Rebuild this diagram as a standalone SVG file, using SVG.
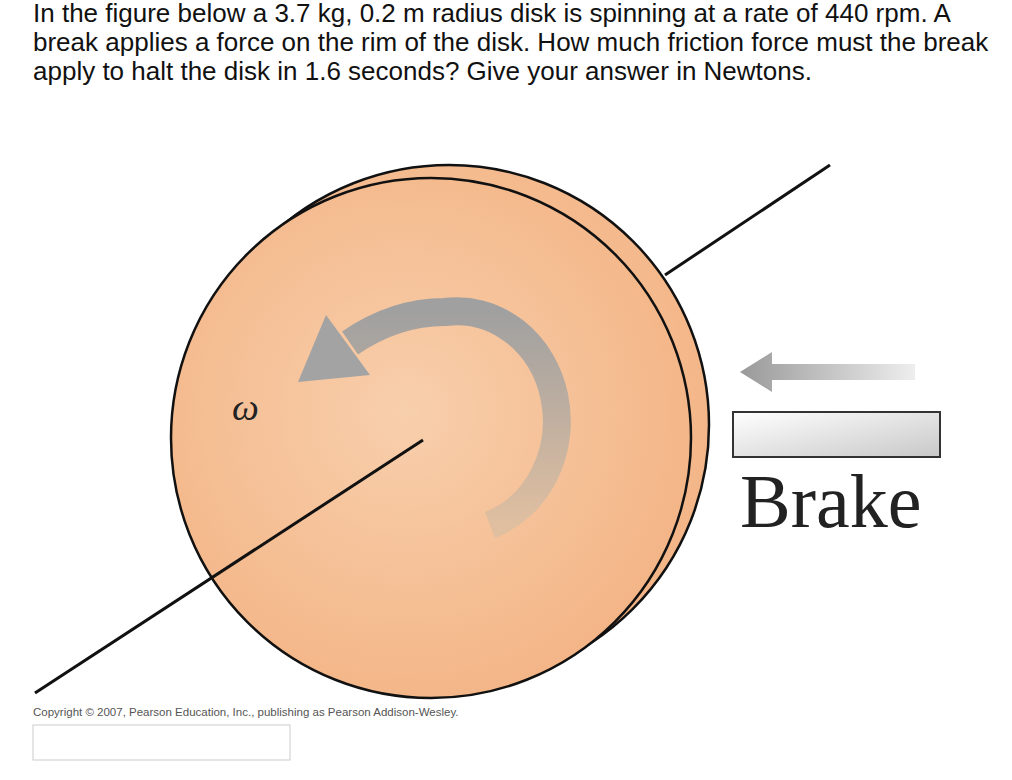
<svg xmlns="http://www.w3.org/2000/svg" width="1012" height="780" viewBox="0 0 1012 780">
<style>
.q{font-family:"Liberation Sans",Arial,sans-serif;font-size:26px;fill:#111}
.disk{fill:url(#dg);stroke:#111;stroke-width:2.5}
.axle{stroke:#111;stroke-width:3;fill:none}
</style>
<defs>
<radialGradient id="dg" cx="0.45" cy="0.45" r="0.6"><stop offset="0" stop-color="#f8cfac"/><stop offset="1" stop-color="#f3b485"/></radialGradient>
<linearGradient id="ag" x1="0" y1="0" x2="1" y2="0"><stop offset="0" stop-color="#999"/><stop offset="1" stop-color="#eee"/></linearGradient>
<linearGradient id="bg" x1="0" y1="0" x2="1" y2="1"><stop offset="0" stop-color="#fff"/><stop offset="1" stop-color="#c8c8c8"/></linearGradient>
<linearGradient id="cg" x1="0" y1="0" x2="0" y2="1"><stop offset="0" stop-color="#a0a0a0"/><stop offset="1" stop-color="#e0bfa0"/></linearGradient>
</defs>
<rect width="1012" height="780" fill="#fff"/>
<text class="q" x="33" y="22">In the figure below a 3.7 kg, 0.2 m radius disk is spinning at a rate of 440 rpm. A</text>
<text class="q" x="33" y="51">break applies a force on the rim of the disk. How much friction force must the break</text>
<text class="q" x="33" y="80">apply to halt the disk in 1.6 seconds? Give your answer in Newtons.</text>
<g id="connectors">
<line class="axle" x1="665" y1="275" x2="830" y2="165"/>
</g>
<g id="disk">
<circle class="disk" cx="449" cy="425" r="260"/>
<circle class="disk" cx="431" cy="438" r="260"/>
<path d="M490,525 A100,110 0 0 0 445,312 Q395,312 350,343" stroke="url(#cg)" stroke-width="28" fill="none"/>
<polygon points="298,382 326,315 370,375" fill="#a3a3a3"/>
<text x="232" y="420" font-family="Liberation Serif,serif" font-style="italic" font-size="38" fill="#222">ω</text>
</g>
<g id="axle"><line class="axle" x1="35" y1="693" x2="423" y2="440"/></g>
<g id="brake">
<polygon points="740,372 772,352 772,364 915,364 915,380 772,380 772,392" fill="url(#ag)"/>
<rect x="733" y="412" width="207" height="45" fill="url(#bg)" stroke="#333" stroke-width="2"/>
<text x="740" y="527" font-family="Liberation Serif,serif" font-size="76" fill="#222">Brake</text>
</g>
<text x="33" y="716" font-family="Liberation Sans,sans-serif" font-size="11.5" fill="#555">Copyright © 2007, Pearson Education, Inc., publishing as Pearson Addison-Wesley.</text>
<rect x="33" y="725" width="257" height="35" fill="#fff" stroke="#ccc"/>
</svg>
